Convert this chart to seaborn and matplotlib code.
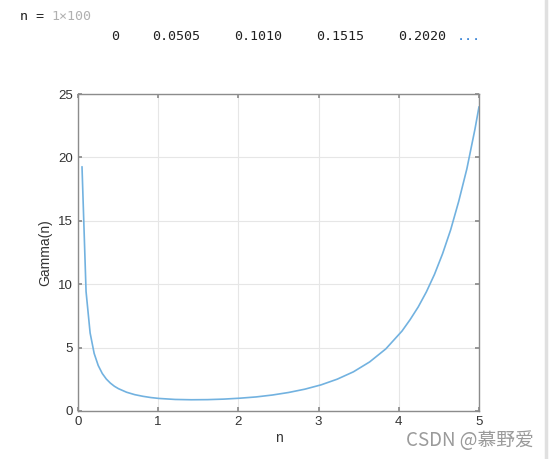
import pandas as pd
import seaborn as sns
import matplotlib.pyplot as plt

# valores (n, Gamma(n))
n_vals = [0.0505, 0.1010, 0.1515, 0.2020, 0.2525, 0.3030, 0.3535, 0.4040,
          0.4545, 0.5051, 0.6061, 0.7071, 0.8081, 0.9091, 1.0101, 1.2121,
          1.4141, 1.6162, 1.8182, 2.0202, 2.2222, 2.4242, 2.6263, 2.8283,
          3.0303, 3.2323, 3.4343, 3.6364, 3.8384, 4.0404, 4.1414, 4.2424,
          4.3434, 4.4444, 4.5455, 4.6465, 4.7475, 4.8485, 4.9495, 5.0000]
gamma_vals = [19.27, 9.42, 6.16, 4.54, 3.59, 2.96, 2.52, 2.20,
              1.95, 1.76, 1.48, 1.29, 1.16, 1.06, 0.99, 0.91,
              0.886, 0.896, 0.937, 1.01, 1.11, 1.26, 1.46, 1.72,
              2.06, 2.51, 3.09, 3.87, 4.90, 6.31, 7.21, 8.21,
              9.39, 10.77, 12.40, 14.29, 16.55, 19.10, 22.23, 24.00]
x_ticks = [0, 1, 2, 3, 4, 5]
y_ticks = [0, 5, 10, 15, 20, 25]
preview = ['0', '0.0505', '0.1010', '0.1515', '0.2020']

df = pd.DataFrame({'n': n_vals, 'Gamma': gamma_vals})

sns.set_theme(style="white")
plt.rcParams['font.family'] = ['Liberation Sans', 'DejaVu Sans']

fig = plt.figure(figsize=(5.49, 4.59), dpi=100)
ax = fig.add_axes([0.142, 0.1046, 0.7305, 0.6904])

sns.lineplot(data=df, x='n', y='Gamma', color='#72b2e0', linewidth=1.2, ax=ax)

ax.set_xlim(0, 5)
ax.set_ylim(0, 25)
ax.set_xticks(x_ticks)
ax.set_yticks(y_ticks)
ax.grid(True, color='#e6e6e6', linewidth=0.8)
for s in ax.spines.values():
    s.set_color('#8c8c8c')
    s.set_linewidth(1.0)
ax.tick_params(direction='in', length=3, color='#8c8c8c', labelsize=9.5,
               labelcolor='#333333', top=True, right=True, bottom=True, left=True)
ax.set_xlabel('n', fontsize=10, color='#333333', labelpad=2)
ax.set_ylabel('Gamma(n)', fontsize=10, color='#333333', labelpad=4)

# texto do console do MATLAB acima do gráfico
mono = 'DejaVu Sans Mono'
fig.text(20 / 549, 1 - 16 / 459, 'n = ', family=mono, fontsize=9.6,
         color='#202020', va='center')
fig.text(51 / 549, 1 - 16 / 459, '1×100', family=mono, fontsize=9.6,
         color='#b0b0b0', va='center')
xs = [111, 152, 234, 316, 398]
for x, t in zip(xs, preview):
    fig.text(x / 549, 1 - 37 / 459, t, family=mono, fontsize=9.6,
             color='#202020', va='center')
fig.text(457 / 549, 1 - 37 / 459, '...', family=mono, fontsize=9.6,
         color='#2a7bd3', va='center')

# marca d'água
fig.text(534 / 549, 1 - 440 / 459, 'CSDN @慕野爱', fontsize=13.5,
         color='#9a9a9a', ha='right', va='center',
         family=['Noto Sans CJK SC', 'DejaVu Sans'])

# barra de rolagem à direita
fig.add_artist(plt.Line2D([546 / 549, 546 / 549], [0, 1], color='#e0e0e0',
                          linewidth=2.5, transform=fig.transFigure))

fig.savefig('out.png', dpi=100)
